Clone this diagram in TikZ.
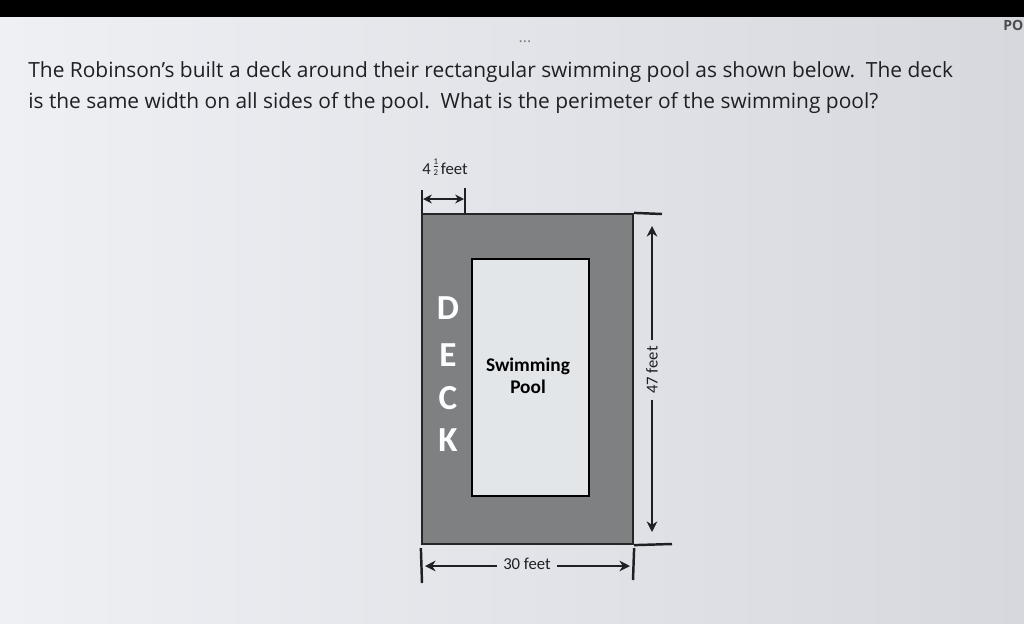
\documentclass[tikz,border=0pt]{standalone}
\usepackage{amsmath}
\usepackage{fontspec}
\setmainfont{Open Sans}
\newfontfamily\labelfont{Carlito}
\definecolor{deckgray}{RGB}{126,128,129}
\definecolor{poolwhite}{RGB}{226,230,232}
\definecolor{bgleft}{RGB}{238,240,244}
\definecolor{bgright}{RGB}{214,216,222}
\definecolor{textdark}{RGB}{30,32,36}
\usetikzlibrary{arrows.meta, positioning, calc}

\begin{document}
\begin{tikzpicture}[
    x=0.02cm, y=-0.02cm,
    deckbox/.style={rectangle, draw=black!85, line width=1.3pt, fill=deckgray, minimum width=4.22cm, minimum height=6.6cm, inner sep=0pt},
    poolbox/.style={rectangle, draw=black, line width=1.3pt, fill=poolwhite, minimum width=2.34cm, minimum height=4.74cm, inner sep=0pt},
    deckletter/.style={font=\labelfont\fontsize{20}{20}\selectfont\bfseries, text=white, inner sep=0pt},
    poollabel/.style={font=\labelfont\fontsize{11}{12.5}\selectfont\bfseries, text=black, align=center, inner sep=0pt},
    dimtext/.style={font=\labelfont\fontsize{9.5}{10}\selectfont, text=textdark, inner sep=1pt},
    dimtick/.style={draw=textdark, line width=1.4pt},
    dimarrow/.style={draw=textdark, line width=1.4pt, -{Stealth[length=6pt, width=6pt]}},
    question/.style={font=\fontsize{11.9}{14}\selectfont, text=textdark, anchor=west, inner sep=0pt}
]
    % screen
    \shade[left color=bgleft, right color=bgright] (0,0) rectangle (1024,623);
    \fill[black] (0,0) rectangle (1024,17);
    \useasboundingbox (0,0) rectangle (1024,623);
    \node[font=\small, text=gray] (dots) at (525,42) {...};
    \node[font=\footnotesize\bfseries, text=black!70, anchor=west, inner sep=0pt] (corner) at (1003,25) {PO};

    % question
    \node[question] (line1) at (28,72) {The Robinson's built a deck around their rectangular swimming pool as shown below.\ \ The deck};
    \node[question] (line2) at (28,103) {is the same width on all sides of the pool.\ \ What is the perimeter of the swimming pool?};

    % deck and pool
    \node[deckbox] (deck) at (527.5,379) {};
    \node[poolbox] (pool) at (530.5,377.5) {};
    \node[poollabel] (poolname) at (528,376) {Swimming\\Pool};
    \node[deckletter] (letterD) at (448,308) {D};
    \node[deckletter] (letterE) at (448,355) {E};
    \node[deckletter] (letterC) at (448,398) {C};
    \node[deckletter] (letterK) at (448,440) {K};

    % deck width
    \node[dimtext] (widthlabel) at (445,168) {4\,\raisebox{0.55ex}{\fontsize{5}{5.5}\selectfont\begin{tabular}{@{}c@{}}1\\[-0.5pt]\hline\rule{0pt}{5pt}2\end{tabular}}\,feet};
    \coordinate (wtickA) at (422,190);
    \coordinate (wtickB) at (465,188);
    \draw[dimtick] (wtickA) -- (wtickA |- deck.north);
    \draw[dimtick] (wtickB) -- (wtickB |- deck.north);
    \coordinate (warrowA) at (423,199);
    \coordinate (warrowB) at (464,199);
    \draw[dimarrow, {Stealth[length=5pt, width=5pt]}-{Stealth[length=5pt, width=5pt]}] (warrowA) -- (warrowB);

    % length 47 feet
    \coordinate (ltickA) at (662,214);
    \coordinate (ltickB) at (672,544);
    \draw[dimtick] (deck.north east) -- (ltickA);
    \draw[dimtick] (deck.south east) -- (ltickB);
    \node[dimtext, rotate=90] (lengthlabel) at (652,370) {47 feet};
    \coordinate (larrowA) at (652,226);
    \coordinate (larrowB) at (652,532);
    \draw[dimarrow] (lengthlabel.east) ++(0,-4) -- (larrowA);
    \draw[dimarrow] (lengthlabel.west) ++(0,4) -- (larrowB);

    % width 30 feet
    \coordinate (btickA) at (422,583);
    \coordinate (btickB) at (633,580);
    \draw[dimtick] (deck.south west) ++(0,3) -- (btickA);
    \draw[dimtick] (deck.south east) ++(0,3) -- (btickB);
    \node[dimtext] (basewidth) at (527,564) {30 feet};
    \coordinate (barrowA) at (425,566);
    \coordinate (barrowB) at (630,566);
    \draw[dimarrow] (basewidth.west |- barrowA) ++(-4,0) -- (barrowA);
    \draw[dimarrow] (basewidth.east |- barrowB) ++(4,0) -- (barrowB);
\end{tikzpicture}
\end{document}
